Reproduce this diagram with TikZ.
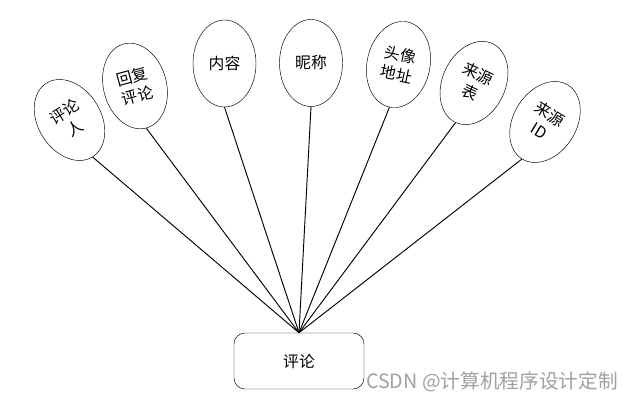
\documentclass[tikz,border=0pt]{standalone}
\usepackage{fontspec}
\setmainfont{Noto Sans CJK SC}
\usetikzlibrary{shapes.geometric}
\definecolor{mark}{HTML}{A0A0A0}

\begin{document}
\begin{tikzpicture}[
    every node/.style={font=\fontsize{13.5}{17}\selectfont},
    attr/.style={draw, ellipse, thin, inner sep=0pt, align=center,
        minimum width=1.89cm, minimum height=2.61cm},
    entity/.style={draw, thin, rounded corners=0.33cm,
        minimum width=3.9cm, minimum height=1.68cm}
]
\useasboundingbox (0,0) rectangle (18.99,12.06);

% Entity
\node[entity] (cmt) at (8.97,1.23) {评论};

% Attributes, left to right
\node[attr, rotate=32] (rater) at (2.085,8.46) {评论\\人};
\node[attr, rotate=15] (reply) at (4.05,9.48) {回复\\评论};
\node[attr] (content) at (6.735,10.155) {内容};
\node[attr] (nick) at (9.33,10.17) {昵称};
\node[attr, rotate=-12] (avatar) at (11.955,10.125) {头像\\地址};
\node[attr, rotate=-25] (srctab) at (14.22,9.57) {来源\\表};
\node[attr, rotate=-32] (srcid) at (16.35,8.4) {来源\\ID};

% Links
\foreach \a in {rater, reply, content, nick, avatar, srctab, srcid}
    \draw[thick] (cmt.north) -- (\a.south);

% Watermark
\node[text=mark, font=\fontsize{16.8}{20}\selectfont] (wm) at (14.76,0.6) {CSDN @计算机程序设计定制};

\end{tikzpicture}
\end{document}
